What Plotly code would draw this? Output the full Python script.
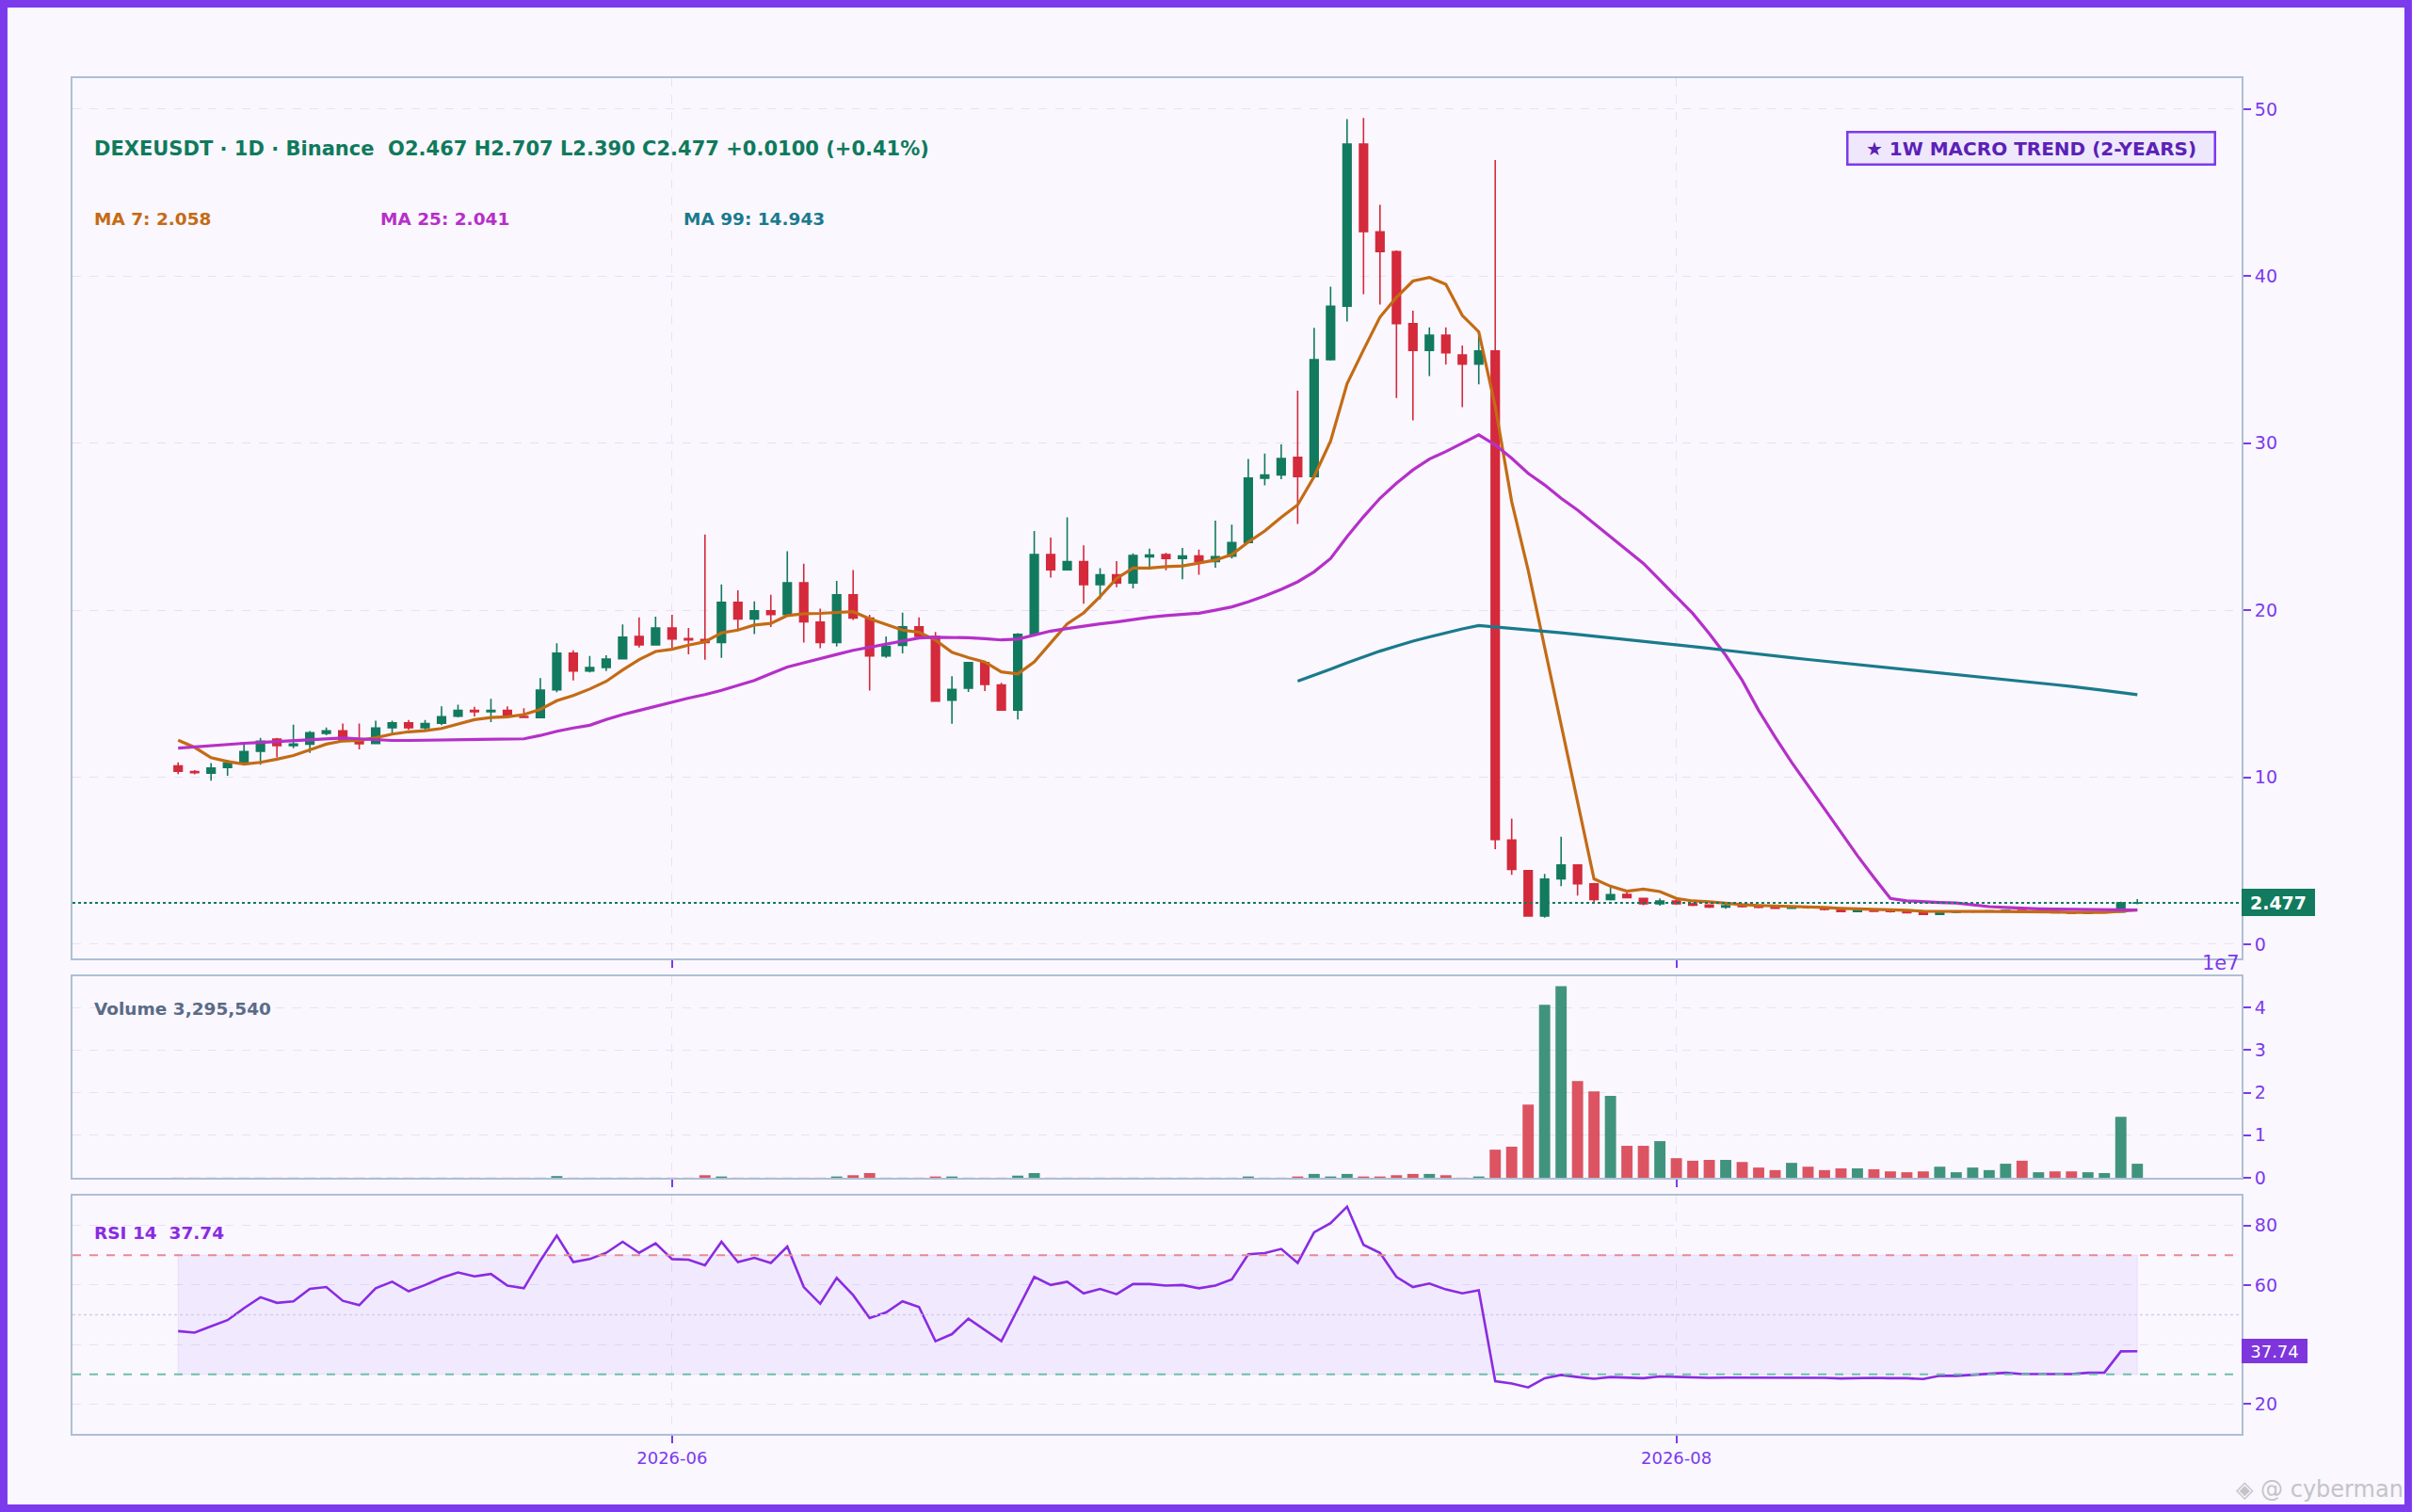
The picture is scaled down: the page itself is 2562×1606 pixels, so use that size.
import pandas as pd
import plotly.graph_objects as go

# daily candles 2026-05-02 .. 2026-08-29
dates = pd.date_range("2026-05-02", "2026-08-29", freq="D")

opens = [10.68, 10.34, 10.25, 10.58, 10.89, 11.55, 12.28, 11.89, 11.98, 12.62,
         12.77, 12.21, 12.02, 12.96, 13.26, 12.96, 13.23, 13.66, 14.00, 13.92,
         14.00, 13.64, 13.57, 15.23, 17.42, 16.36, 16.57, 17.09, 18.43, 17.92,
         18.94, 18.30, 18.25, 18.06, 20.47, 19.47, 19.96, 19.75, 21.64, 19.28,
         18.06, 20.92, 19.53, 17.26, 17.89, 19.00, 18.43, 14.61, 15.33, 16.86,
         15.52, 14.02, 18.56, 23.33, 22.42, 22.91, 21.54, 22.12, 21.63, 23.20,
         23.33, 23.10, 23.24, 22.91, 23.24, 24.05, 27.91, 28.10, 29.15, 28.00,
         35.00, 38.20, 47.91, 42.65, 41.47, 37.16, 35.56, 36.47, 35.29, 34.74,
         35.52, 6.24, 4.40, 1.69, 3.91, 4.74, 3.62, 2.67, 2.98, 2.74,
         2.42, 2.59, 2.42, 2.34, 2.22, 2.32, 2.25, 2.21, 2.16, 2.24,
         2.18, 2.08, 1.96, 2.03, 1.97, 1.95, 1.89, 1.79, 1.92, 1.95,
         1.97, 1.99, 2.02, 1.91, 1.95, 1.89, 1.86, 1.90, 1.93, 2.467]
highs = [10.89, 10.42, 10.85, 11.04, 11.98, 12.36, 12.36, 13.15, 12.77, 12.98,
         13.21, 13.21, 13.38, 13.38, 13.43, 13.43, 14.25, 14.34, 14.21, 14.70,
         14.25, 14.13, 15.94, 18.02, 17.60, 17.26, 17.30, 19.15, 19.57, 19.62,
         19.72, 18.94, 24.53, 21.55, 21.19, 20.53, 20.92, 23.53, 22.79, 20.09,
         21.75, 22.40, 19.72, 18.43, 19.85, 19.57, 18.70, 16.05, 16.90, 16.96,
         15.65, 18.63, 24.74, 24.35, 25.56, 23.89, 22.52, 22.94, 23.40, 23.69,
         23.43, 23.73, 23.63, 25.36, 25.13, 29.05, 29.38, 29.93, 33.14, 36.90,
         39.38, 49.41, 49.48, 44.28, 41.54, 37.94, 36.93, 36.93, 35.85, 36.67,
         46.96, 7.52, 4.45, 4.21, 6.43, 4.76, 3.67, 3.47, 3.10, 2.79,
         2.74, 2.74, 2.47, 2.38, 2.36, 2.40, 2.30, 2.26, 2.27, 2.27,
         2.22, 2.12, 2.08, 2.06, 2.01, 1.99, 1.93, 1.96, 1.98, 2.00,
         2.01, 2.05, 2.04, 1.98, 1.97, 1.92, 1.93, 1.96, 2.55, 2.707]
lows = [10.19, 10.17, 9.79, 10.08, 10.81, 10.75, 11.19, 11.74, 11.45, 12.51,
        12.17, 11.66, 11.98, 12.62, 12.83, 12.83, 13.11, 13.58, 13.64, 13.30,
        13.53, 13.57, 13.53, 15.09, 15.79, 16.28, 16.36, 17.08, 17.77, 17.92,
        17.74, 17.36, 17.04, 17.15, 18.77, 18.57, 19.00, 19.70, 18.06, 17.72,
        17.83, 19.42, 15.19, 17.15, 17.42, 18.40, 14.51, 13.20, 15.10, 15.16,
        14.00, 13.46, 18.50, 21.96, 22.40, 20.39, 20.65, 21.37, 21.31, 22.58,
        22.39, 21.86, 22.12, 22.55, 23.10, 24.00, 27.48, 27.84, 25.16, 27.95,
        34.95, 37.29, 38.92, 38.30, 32.71, 31.37, 34.02, 34.71, 32.16, 33.53,
        5.69, 4.15, 1.64, 1.59, 3.47, 2.91, 2.42, 2.62, 2.74, 2.34,
        2.30, 2.36, 2.28, 2.17, 2.12, 2.20, 2.15, 2.12, 2.12, 2.13,
        2.03, 1.92, 1.92, 1.93, 1.90, 1.85, 1.75, 1.76, 1.86, 1.88,
        1.90, 1.94, 1.88, 1.88, 1.86, 1.83, 1.84, 1.87, 1.90, 2.390]
closes = [10.36, 10.27, 10.55, 10.85, 11.53, 12.15, 11.89, 11.98, 12.66, 12.77,
          12.23, 12.00, 12.94, 13.26, 12.96, 13.21, 13.62, 14.00, 13.92, 14.00,
          13.68, 13.58, 15.21, 17.42, 16.36, 16.57, 17.08, 18.38, 17.92, 18.94,
          18.28, 18.22, 18.06, 20.47, 19.47, 19.96, 19.75, 21.64, 19.30, 18.06,
          20.92, 19.53, 17.26, 17.83, 19.00, 18.43, 14.55, 15.26, 16.86, 15.56,
          14.02, 18.56, 23.33, 22.42, 22.91, 21.54, 22.12, 21.63, 23.27, 23.30,
          23.10, 23.24, 22.91, 23.20, 24.05, 27.91, 28.10, 29.08, 28.00, 35.00,
          38.20, 47.91, 42.68, 41.47, 37.16, 35.56, 36.47, 35.42, 34.74, 35.52,
          6.27, 4.48, 1.69, 3.89, 4.74, 3.62, 2.67, 2.96, 2.79, 2.42,
          2.59, 2.42, 2.34, 2.22, 2.30, 2.25, 2.21, 2.16, 2.24, 2.18,
          2.08, 1.96, 2.03, 1.97, 1.95, 1.89, 1.79, 1.92, 1.95, 1.97,
          1.99, 2.02, 1.91, 1.95, 1.89, 1.86, 1.90, 1.93, 2.467, 2.477]
volumes = [3e4, 3e4, 3e4, 3e4, 3e4, 3e4, 3e4, 3e4, 3e4, 3e4,
           3e4, 3e4, 3e4, 3e4, 3e4, 3e4, 3e4, 3e4, 3e4, 3e4,
           3e4, 3e4, 3e4, 4e5, 3e4, 3e4, 3e4, 3e4, 3e4, 3e4,
           3e4, 3e4, 6e5, 3e5, 3e4, 3e4, 3e4, 3e4, 3e4, 3e4,
           3e5, 6e5, 1.1e6, 3e4, 3e4, 3e4, 3e5, 3e5, 3e4, 3e4,
           3e4, 5e5, 1.1e6, 3e4, 3e4, 3e4, 3e4, 3e4, 3e4, 3e4,
           3e4, 3e4, 3e4, 3e4, 3e4, 3e5, 3e4, 3e4, 3e5, 9e5,
           3e5, 9e5, 3e5, 3e5, 6e5, 9e5, 9e5, 6e5, 3e4, 3e5,
           6.6e6, 7.3e6, 1.72e7, 4.06e7, 4.5e7, 2.27e7, 2.03e7, 1.92e7, 7.5e6, 7.5e6,
           8.6e6, 4.6e6, 4.0e6, 4.2e6, 4.2e6, 3.7e6, 2.4e6, 1.8e6, 3.5e6, 2.6e6,
           1.8e6, 2.2e6, 2.2e6, 2.0e6, 1.5e6, 1.3e6, 1.5e6, 2.6e6, 1.3e6, 2.4e6,
           1.8e6, 3.3e6, 4.0e6, 1.3e6, 1.5e6, 1.5e6, 1.3e6, 1.1e6, 1.43e7, 3295540]

ma7 = [12.21, 11.79, 11.17, 10.94, 10.79, 10.89, 11.08, 11.30, 11.64, 11.98,
       12.17, 12.21, 12.36, 12.58, 12.72, 12.79, 12.92, 13.17, 13.45, 13.57,
       13.62, 13.75, 14.06, 14.58, 14.89, 15.28, 15.74, 16.42, 17.04, 17.53,
       17.66, 17.91, 18.11, 18.64, 18.81, 19.11, 19.21, 19.68, 19.79, 19.81,
       19.85, 19.91, 19.49, 19.15, 18.81, 18.68, 18.21, 17.48, 17.16, 16.90,
       16.31, 16.18, 16.90, 18.04, 19.18, 19.84, 20.82, 21.90, 22.52, 22.52,
       22.61, 22.65, 22.84, 23.00, 23.33, 24.08, 24.74, 25.56, 26.31, 28.00,
       30.13, 33.56, 35.59, 37.55, 38.73, 39.71, 39.93, 39.51, 37.65, 36.67,
       32.20, 26.50, 22.40, 17.80, 13.06, 8.60, 3.91, 3.47, 3.18, 3.30,
       3.15, 2.74, 2.59, 2.54, 2.44, 2.37, 2.32, 2.30, 2.27, 2.25,
       2.20, 2.15, 2.13, 2.10, 2.08, 2.03, 1.98, 1.96, 1.96, 1.96,
       1.96, 1.96, 1.93, 1.93, 1.93, 1.91, 1.91, 1.91, 1.98, 2.058]
ma25 = [11.74, 11.82, 11.90, 11.96, 12.03, 12.08, 12.14, 12.20, 12.26, 12.32,
        12.35, 12.30, 12.23, 12.20, 12.20, 12.22, 12.24, 12.26, 12.28, 12.28,
        12.29, 12.30, 12.50, 12.75, 12.95, 13.11, 13.45, 13.75, 14.00, 14.25,
        14.50, 14.74, 14.95, 15.20, 15.50, 15.79, 16.20, 16.60, 16.85, 17.08,
        17.35, 17.60, 17.78, 17.96, 18.15, 18.34, 18.38, 18.37, 18.35, 18.30,
        18.22, 18.27, 18.53, 18.75, 18.90, 19.05, 19.18, 19.30, 19.45, 19.58,
        19.68, 19.74, 19.82, 20.00, 20.20, 20.50, 20.85, 21.25, 21.70, 22.30,
        23.10, 24.40, 25.60, 26.70, 27.60, 28.40, 29.05, 29.50, 30.00, 30.50,
        29.90, 29.10, 28.20, 27.50, 26.70, 26.00, 25.20, 24.40, 23.60, 22.80,
        21.80, 20.80, 19.80, 18.60, 17.30, 15.80, 14.00, 12.40, 10.90, 9.50,
        8.10, 6.65, 5.30, 4.00, 2.74, 2.60, 2.53, 2.50, 2.47, 2.35,
        2.25, 2.20, 2.15, 2.12, 2.10, 2.08, 2.06, 2.05, 2.04, 2.041]
# MA 99 only exists from 2026-07-09
ma99_start = "2026-07-09"
ma99 = [15.75, 16.10, 16.47, 16.85, 17.20, 17.55, 17.85, 18.15, 18.40, 18.65,
        18.88, 19.08, 19.00, 18.92, 18.83, 18.74, 18.65, 18.55, 18.45, 18.35,
        18.25, 18.15, 18.06, 17.96, 17.85, 17.72, 17.60, 17.48, 17.37, 17.26,
        17.15, 17.05, 16.95, 16.85, 16.76, 16.66, 16.57, 16.48, 16.38, 16.27,
        16.16, 16.05, 15.95, 15.85, 15.74, 15.64, 15.54, 15.43, 15.33, 15.20,
        15.07, 14.943]
rsi = [44.5, 44.0, 46.1, 48.2, 52.2, 55.9, 54.0, 54.5, 58.7, 59.3,
       54.7, 53.2, 58.9, 61.1, 57.9, 60.0, 62.4, 64.2, 62.9, 63.7,
       59.8, 58.9, 68.2, 76.6, 67.7, 68.7, 70.8, 74.5, 70.8, 74.0,
       68.7, 68.5, 66.6, 74.5, 67.7, 69.1, 67.4, 72.9, 59.3, 53.7,
       62.4, 56.6, 48.9, 50.8, 54.5, 52.6, 41.1, 43.5, 48.7, 44.8,
       41.1, 51.9, 62.7, 60.0, 61.1, 57.2, 58.7, 56.9, 60.3, 60.3,
       59.8, 60.0, 58.9, 59.8, 61.9, 70.3, 70.7, 72.1, 67.4, 77.7,
       80.8, 86.3, 73.5, 70.8, 62.7, 59.3, 60.5, 58.5, 57.2, 58.2,
       27.7, 26.9, 25.6, 28.7, 29.8, 29.1, 28.5, 29.1, 29.0, 28.7,
       29.3, 29.1, 29.0, 28.8, 28.9, 28.9, 28.9, 28.9, 29.0, 28.9,
       28.8, 28.6, 28.8, 28.8, 28.7, 28.7, 28.4, 29.5, 29.5, 29.8,
       30.1, 30.5, 30.1, 30.1, 30.1, 30.1, 30.5, 30.6, 37.7, 37.74]

price_ticks = [0, 10, 20, 30, 40, 50]
vol_ticks = [0, 1e7, 2e7, 3e7, 4e7]
vol_ticktext = ["0", "1", "2", "3", "4"]
rsi_ticks = [20, 40, 60, 80]
rsi_ticktext = ["20", "", "60", "80"]   # 40 sits under the last-value tag

UP = "#127a5e"
DOWN = "#d42a3b"
VIOLET = "#7c3aed"
FRAME = "#aebfd4"
GRID = "#e7e1f6"
BG = "#faf7ff"
FONT = "DejaVu Sans"

vol_colors = ["rgba(18,122,94,0.8)" if c >= o else "rgba(212,42,59,0.8)"
              for o, c in zip(opens, closes)]
ma99_dates = pd.date_range(ma99_start, periods=len(ma99), freq="D")

fig = go.Figure()

fig.add_trace(go.Candlestick(
    x=dates, open=opens, high=highs, low=lows, close=closes,
    increasing=dict(line=dict(color=UP, width=1.6), fillcolor=UP),
    decreasing=dict(line=dict(color=DOWN, width=1.6), fillcolor=DOWN),
    whiskerwidth=0, xaxis="x", yaxis="y", showlegend=False))
fig.add_trace(go.Scatter(x=dates, y=ma7, mode="lines",
                         line=dict(color="#c46b14", width=3.2),
                         xaxis="x", yaxis="y", showlegend=False))
fig.add_trace(go.Scatter(x=dates, y=ma25, mode="lines",
                         line=dict(color="#b530c8", width=3.2),
                         xaxis="x", yaxis="y", showlegend=False))
fig.add_trace(go.Scatter(x=ma99_dates, y=ma99, mode="lines",
                         line=dict(color="#1a7a8c", width=3.2),
                         xaxis="x", yaxis="y", showlegend=False))

fig.add_trace(go.Bar(x=dates, y=volumes, marker=dict(color=vol_colors, line_width=0),
                     xaxis="x2", yaxis="y2", showlegend=False))

# RSI band 30-70
fig.add_trace(go.Scatter(x=[dates[0], dates[-1], dates[-1], dates[0], dates[0]],
                         y=[30, 30, 70, 70, 30], mode="lines", fill="toself",
                         fillcolor="rgba(139,92,246,0.08)",
                         line=dict(color="rgba(139,92,246,0.12)", width=1),
                         xaxis="x3", yaxis="y3", showlegend=False, hoverinfo="skip"))
fig.add_trace(go.Scatter(x=dates, y=rsi, mode="lines",
                         line=dict(color="#8a2be2", width=2.6),
                         xaxis="x3", yaxis="y3", showlegend=False))

xrange = ["2026-04-25 14:00", "2026-09-04 08:00"]
xcommon = dict(type="date", range=xrange, showgrid=True, gridcolor=GRID, griddash="dash",
               gridwidth=1, showline=True, linecolor=FRAME, linewidth=2, mirror=True,
               ticks="outside", tickcolor=VIOLET, ticklen=8, tickwidth=2,
               dtick="M2", tick0="2026-06-01", tickformat="%Y-%m",
               tickfont=dict(family=FONT, size=18, color=VIOLET), zeroline=False)
ycommon = dict(side="right", showgrid=True, gridcolor=GRID, griddash="dash", gridwidth=1,
               showline=True, linecolor=FRAME, linewidth=2, mirror=True,
               ticks="outside", tickcolor=VIOLET, ticklen=8, tickwidth=2,
               tickfont=dict(family=FONT, size=19, color=VIOLET), zeroline=False)

fig.update_layout(
    width=2562, height=1606,
    paper_bgcolor=BG, plot_bgcolor=BG,
    margin=dict(l=77, r=181, t=83, b=83),
    font=dict(family=FONT, color=VIOLET),
    bargap=0.32,
    xaxis=dict(xcommon, anchor="y", showticklabels=False, rangeslider=dict(visible=False)),
    xaxis2=dict(xcommon, anchor="y2", matches="x", showticklabels=False),
    xaxis3=dict(xcommon, anchor="y3", matches="x"),
    yaxis=dict(ycommon, domain=[0.3507, 1.0], range=[-0.85, 51.86], tickvals=price_ticks),
    yaxis2=dict(ycommon, domain=[0.1889, 0.3375], range=[0, 4.73e7],
                tickvals=vol_ticks, ticktext=vol_ticktext),
    yaxis3=dict(ycommon, domain=[0.0, 0.1757], range=[10, 90],
                tickvals=rsi_ticks, ticktext=rsi_ticktext),
)

# reference lines
fig.add_shape(type="line", xref="x domain", yref="y", x0=0, x1=1, y0=closes[-1], y1=closes[-1],
              line=dict(color=UP, width=2.2, dash="dot"))
fig.add_shape(type="line", xref="x3 domain", yref="y3", x0=0, x1=1, y0=70, y1=70,
              line=dict(color="#e58a92", width=2, dash="dash"))
fig.add_shape(type="line", xref="x3 domain", yref="y3", x0=0, x1=1, y0=30, y1=30,
              line=dict(color="#6fbfa9", width=2, dash="dash"))
fig.add_shape(type="line", xref="x3 domain", yref="y3", x0=0, x1=1, y0=50, y1=50,
              line=dict(color="#d4cde6", width=1.5, dash="dot"))
# outer frame
fig.add_shape(type="rect", xref="paper", yref="paper",
              x0=-0.0317, x1=1.0768, y0=-0.0549, y1=1.0549,
              line=dict(color=VIOLET, width=8), fillcolor="rgba(0,0,0,0)")

header = ("DEXEUSDT · 1D · Binance  O%.3f H%.3f L%.3f C%.3f +%.4f (+%.2f%%)"
          % (opens[-1], highs[-1], lows[-1], closes[-1], closes[-1] - closes[-2],
             (closes[-1] - closes[-2]) / closes[-2] * 100))
ann = [
    dict(text="<b>" + header + "</b>", x=0.0091, y=0.948, font=dict(size=21, color="#0f7a5c")),
    dict(text="<b>MA 7: %.3f</b>" % ma7[-1], x=0.0091, y=0.8965, font=dict(size=18.5, color="#c46b14")),
    dict(text="<b>MA 25: %.3f</b>" % ma25[-1], x=0.141, y=0.8965, font=dict(size=18.5, color="#b530c8")),
    dict(text="<b>MA 99: %.3f</b>" % ma99[-1], x=0.2808, y=0.8965, font=dict(size=18.5, color="#1a7a8c")),
    dict(text="<b>Volume {:,}</b>".format(int(volumes[-1])), x=0.0091, y=0.3132,
         font=dict(size=18.5, color="#5b6b86")),
    dict(text="<b>RSI 14  %.2f</b>" % rsi[-1], x=0.0091, y=0.1486, font=dict(size=18.5, color="#8a2be2")),
]
for a in ann:
    fig.add_annotation(xref="paper", yref="paper", xanchor="left", yanchor="middle",
                       showarrow=False, font_family=FONT, **a)

fig.add_annotation(text="<b>★ 1W MACRO TREND (2-YEARS)</b>", xref="paper", yref="paper",
                   x=0.9028, y=0.9486, xanchor="center", yanchor="middle", showarrow=False,
                   font=dict(family=FONT, size=20, color="#5b21b6"), width=382, height=26,
                   bgcolor="#efe8fd", bordercolor=VIOLET, borderwidth=2.5, borderpad=3)
fig.add_annotation(text="<b>%.3f</b>" % closes[-1], xref="paper", yref="y",
                   x=1.0, y=closes[-1], xanchor="left", yanchor="middle", showarrow=False,
                   font=dict(family=FONT, size=19, color="white"), width=70, height=21,
                   bgcolor=UP, bordercolor=UP, borderpad=3)
fig.add_annotation(text="%.2f" % rsi[-1], xref="paper", yref="y3",
                   x=1.0, y=rsi[-1], xanchor="left", yanchor="middle", showarrow=False,
                   font=dict(family=FONT, size=18, color="white"), width=62, height=18,
                   bgcolor="#7e36dc", bordercolor="#7e36dc", borderpad=3)
fig.add_annotation(text="1e7", xref="paper", yref="paper", x=1.0, y=0.3472,
                   xanchor="right", yanchor="middle", showarrow=False,
                   font=dict(family=FONT, size=21, color=VIOLET))
fig.add_annotation(text="◈ @ cyberman", xref="paper", yref="paper", x=1.0755, y=-0.041,
                   xanchor="right", yanchor="middle", showarrow=False,
                   font=dict(family=FONT, size=24, color="#c4c4c8"))

fig.write_html("out.html", config={"displayModeBar": False},
               post_script="document.body.style.margin='0';")
